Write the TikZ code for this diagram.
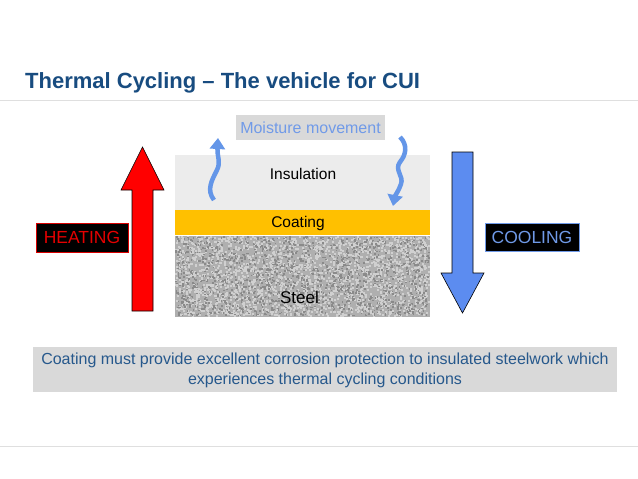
\documentclass[tikz,border=0pt]{standalone}
\usepackage{fontspec}
\setmainfont{Liberation Sans}
\usetikzlibrary{arrows.meta}
\definecolor{titleblue}{RGB}{24,76,128}
\definecolor{textblue}{RGB}{38,88,140}
\definecolor{moistblue}{RGB}{112,154,232}
\definecolor{waveblue}{RGB}{100,150,232}
\definecolor{coolblue}{RGB}{92,140,240}
\definecolor{coatyellow}{RGB}{255,192,0}
\definecolor{insgray}{RGB}{236,236,236}
\definecolor{boxgray}{RGB}{217,217,217}
\definecolor{steelgray}{RGB}{175,175,175}
\definecolor{steellight}{RGB}{208,208,208}
\definecolor{steeldark}{RGB}{138,138,138}
\begin{document}
\begin{tikzpicture}[x=1pt,y=-1pt,every node/.style={font=\fontsize{15.5}{18}\selectfont,inner sep=0pt},
  wave/.style={waveblue,line width=4.5pt,-{Triangle[width=15pt,length=11pt]}},
  tempbox/.style={fill=black,minimum width=92pt,minimum height=29pt,line width=0.8pt,font=\fontsize{17.5}{20}\selectfont}]
\useasboundingbox (0,0) rectangle (638,479);
\fill[white] (0,0) rectangle (638,479);
% title and rules
\node[anchor=base west,font=\fontsize{22}{26}\selectfont\bfseries,text=titleblue] (title) at (25,88) {Thermal Cycling -- The vehicle for CUI};
\draw[gray!25,line width=1pt] (0,100) -- (638,100);
\draw[gray!25,line width=1pt] (0,446) -- (638,446);
% layers
\fill[insgray] (175,155) rectangle (430,210);
\node (ins) at (303,174) {Insulation};
\fill[coatyellow] (175,210) rectangle (430,235);
\node (coat) at (298,223) {Coating};
\fill[steelgray] (175,236) rectangle (430,317);
\pgfmathsetseed{42}
\foreach \i in {1,...,2200}
  \fill[steellight] ({175+253*rnd},{236+79*rnd}) rectangle +(2,2);
\foreach \i in {1,...,1500}
  \fill[steeldark] ({175+253*rnd},{236+79*rnd}) rectangle +(1.6,1.6);
\node[font=\fontsize{17}{20}\selectfont] (steel) at (299.5,297) {Steel};
% moisture
\fill[boxgray] (236,115) rectangle (385,140);
\node[text=moistblue,font=\fontsize{16}{18}\selectfont] (moist) at (310.5,128) {Moisture movement};
\coordinate (upA) at (214,200);
\coordinate (upB) at (218,138);
\coordinate (dnA) at (400,137);
\coordinate (dnB) at (393,206);
\draw[wave] (upA) .. controls (206,190) and (212,180) .. (217,170) .. controls (221,162) and (217,156) .. (upB);
\draw[wave] (dnA) .. controls (408,145) and (406,155) .. (400,162) .. controls (394,170) and (404,176) .. (401,184) .. controls (399,190) and (395,196) .. (dnB);
% heating / cooling
\fill[red,draw=black,line width=0.6pt] (132,311) -- (132,190) -- (121,190) -- (142.5,147) -- (164,190) -- (153,190) -- (153,311) -- cycle;
\node[tempbox,draw=red!85!black,text=red!90!black] (heat) at (82,237.5) {HEATING};
\fill[coolblue,draw=black,line width=0.6pt] (452,152) -- (452,273) -- (441,273) -- (462.5,313) -- (484,273) -- (473,273) -- (473,152) -- cycle;
\node[tempbox,minimum width=94pt,minimum height=28pt,draw=moistblue,text=moistblue] (cool) at (532,237) {COOLING};
% note
\fill[boxgray] (33,347) rectangle (617,392);
\node[text=textblue,align=center,font=\fontsize{16}{20}\selectfont] (note) at (325,370) {Coating must provide excellent corrosion protection to insulated steelwork which\\experiences thermal cycling conditions};
\end{tikzpicture}
\end{document}
